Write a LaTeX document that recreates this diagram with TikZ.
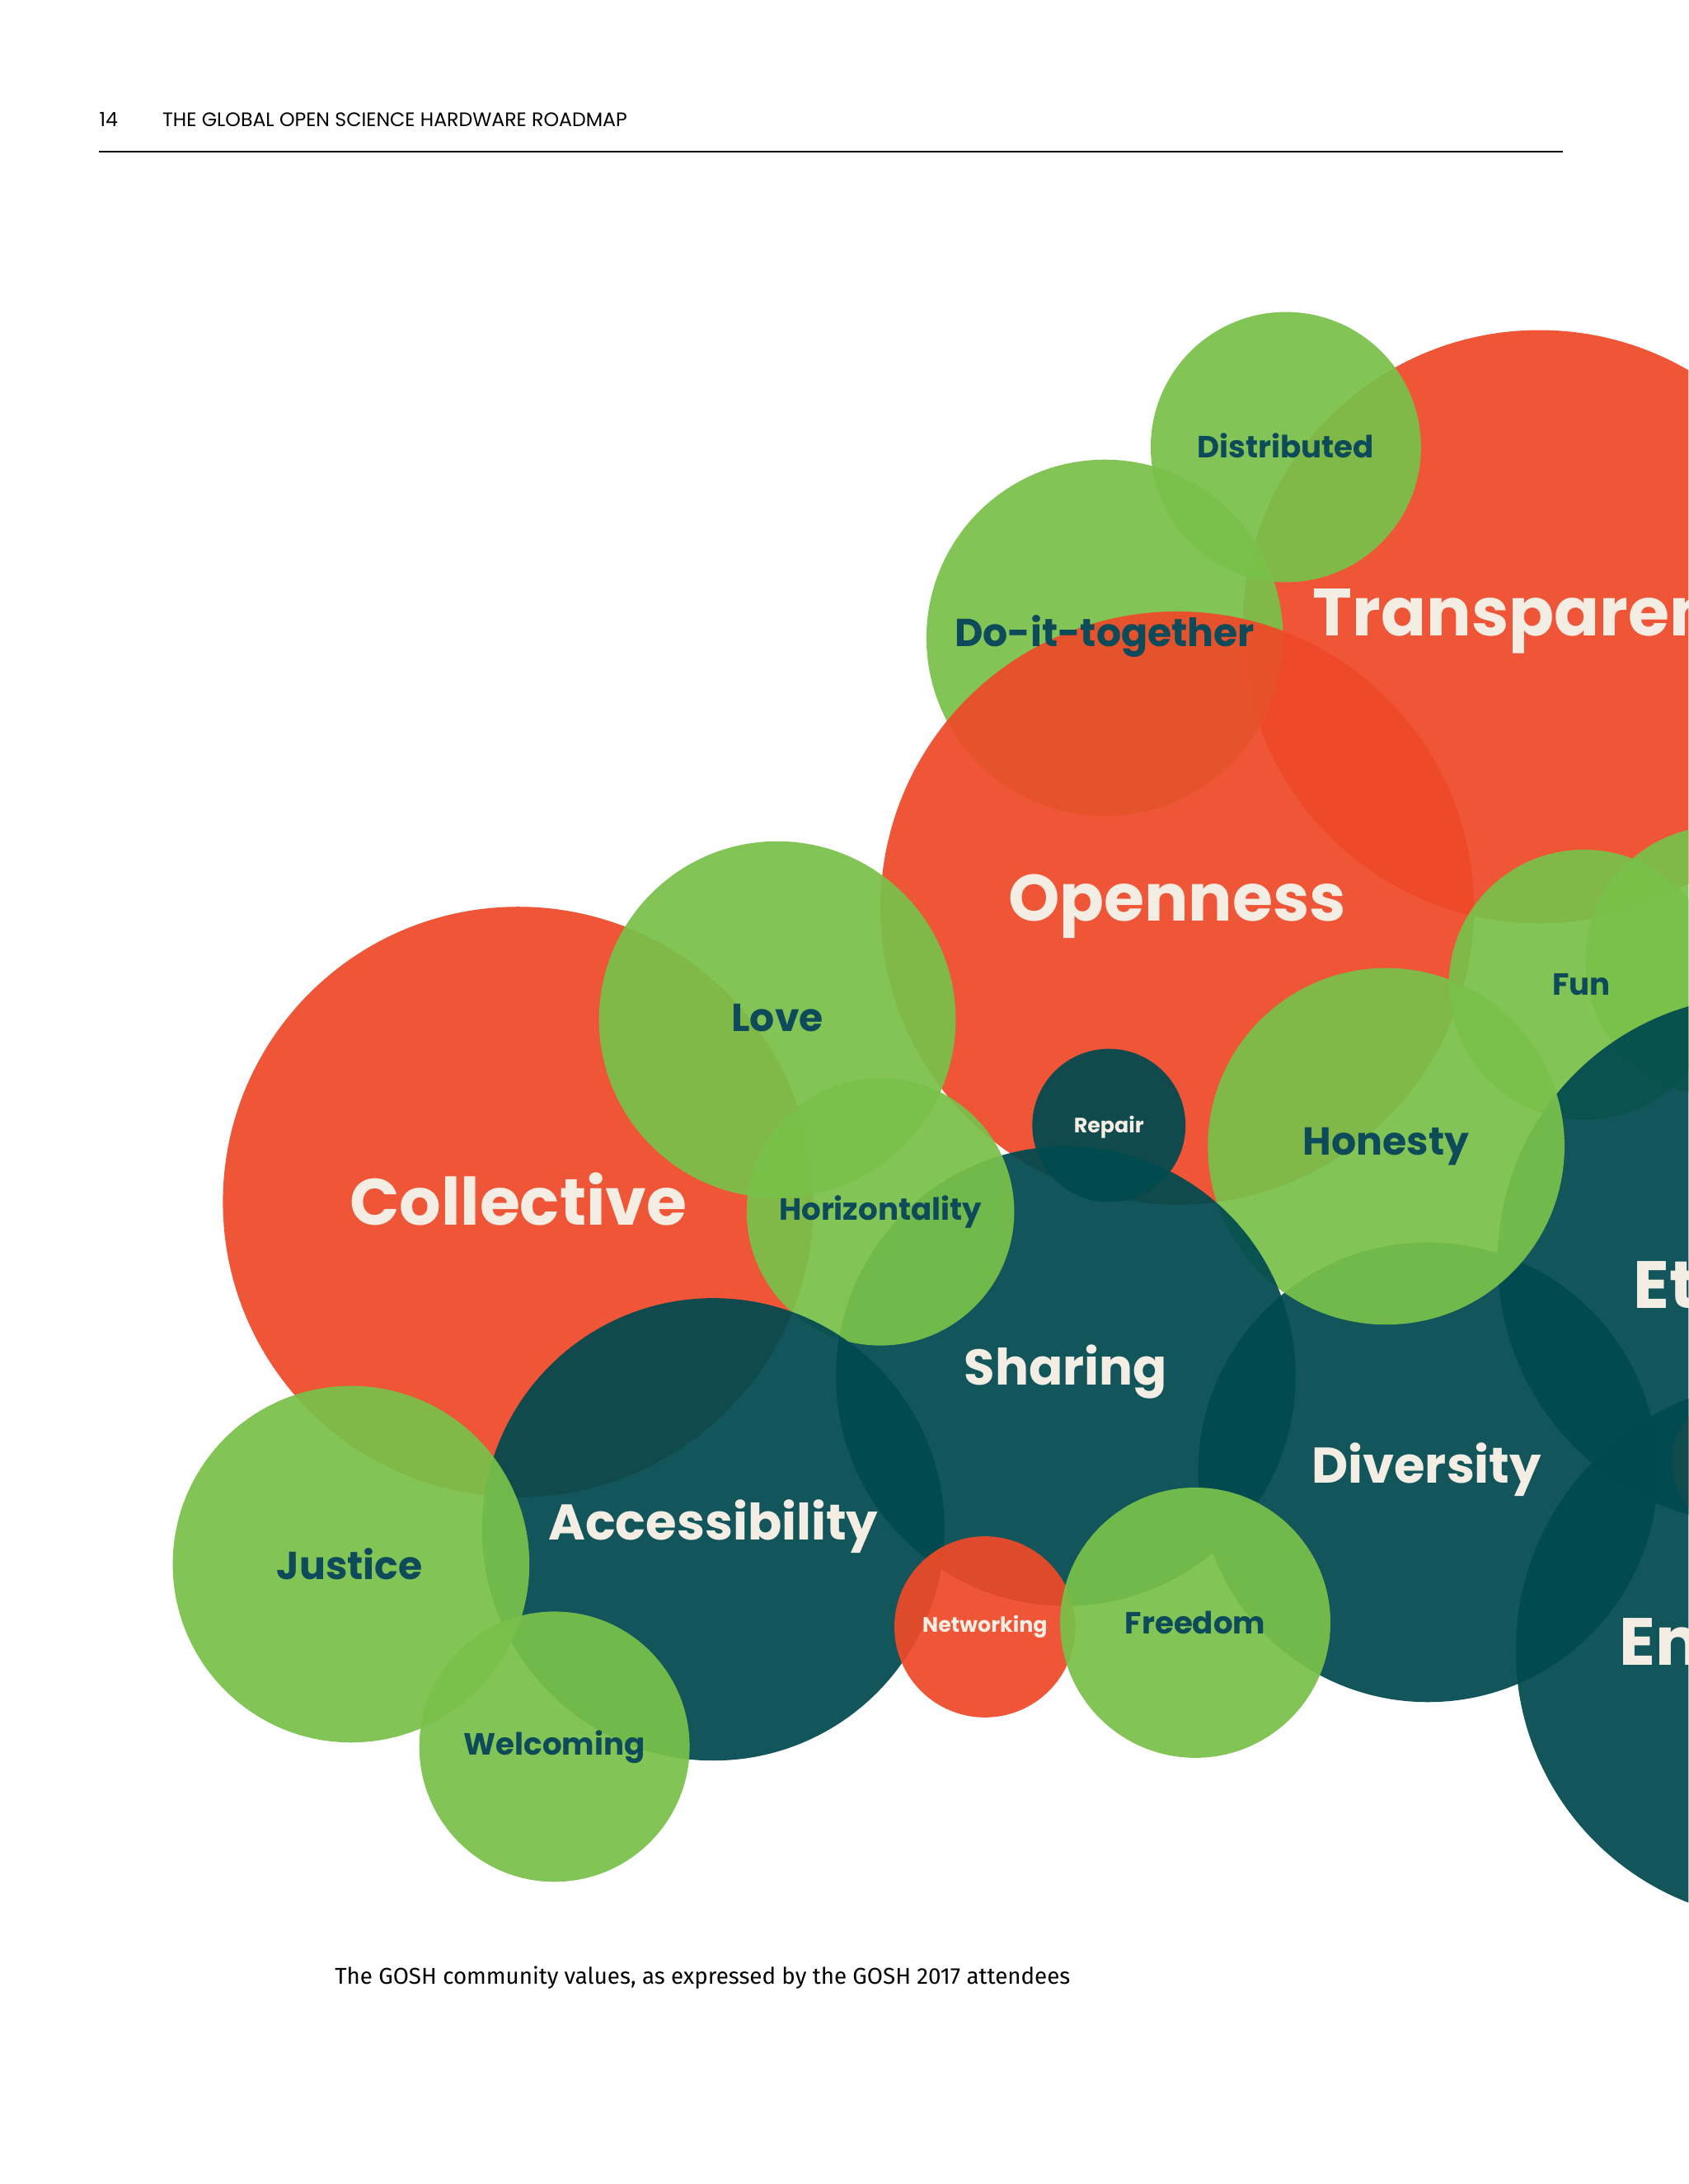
\documentclass[tikz,border=0pt]{standalone}
\usepackage{fontspec}
\setmainfont{Poppins}
\newfontfamily\capfont{Fira Sans}
\definecolor{gr}{HTML}{79C14A}
\definecolor{rd}{HTML}{EE4A28}
\definecolor{dk}{HTML}{004A4F}
\definecolor{tdk}{HTML}{0D4A5A}
\definecolor{cream}{HTML}{F3EDE4}
\tikzset{
  bub/.style={fill opacity=0.93},
  lab/.style={font=\bfseries, text=tdk, inner sep=0pt},
  labw/.style={font=\bfseries, text=cream, inner sep=0pt}
}
\begin{document}
\begin{tikzpicture}[x=0.5pt,y=-0.5pt]
\fill[white] (0,0) rectangle (1212,1568);
\useasboundingbox (0,0) rectangle (1212,1568);
\node[anchor=west,font=\fontsize{7}{9}\selectfont,inner sep=0] (hdr) at (71,86) {14\hspace{16pt}THE GLOBAL OPEN SCIENCE HARDWARE ROADMAP};
\draw[line width=0.6pt] (71,109) -- (1122,109);
\begin{scope}
\clip (0,150) rectangle (1212,1400);
\fill[bub,rd] (1105,450) circle[radius=106.5pt];
\fill[bub,gr] (923,321) circle[radius=48.5pt];
\fill[bub,gr] (793,458) circle[radius=64pt];
\fill[bub,rd] (845,652) circle[radius=106.5pt];
\fill[bub,gr] (1235,690) circle[radius=48.5pt];
\fill[bub,gr] (1137,707) circle[radius=48.5pt];
\fill[bub,dk] (1265,905) circle[radius=95pt];
\fill[bub,rd] (1250,1050) circle[radius=25pt];
\fill[bub,dk] (1282,1185) circle[radius=97pt];
\fill[bub,rd] (372,863) circle[radius=106pt];
\fill[bub,gr] (558,732) circle[radius=64pt];
\fill[bub,dk] (1025,1057) circle[radius=82.5pt];
\fill[bub,gr] (995,823) circle[radius=64pt];
\fill[bub,dk] (765,988) circle[radius=82.5pt];
\fill[bub,gr] (632,870) circle[radius=48pt];
\fill[bub,dk] (796,808) circle[radius=27.5pt];
\fill[bub,dk] (512,1098) circle[radius=83pt];
\fill[bub,gr] (252,1123) circle[radius=64pt];
\fill[bub,gr] (398,1254) circle[radius=48.5pt];
\fill[bub,rd] (707,1168) circle[radius=32.5pt];
\fill[bub,gr] (858,1165) circle[radius=48.5pt];
\node[labw,font=\bfseries\fontsize{24}{28}\selectfont,anchor=west] (t1) at (942,446) {Transparency};
\node[labw,font=\bfseries\fontsize{24}{28}\selectfont,anchor=west] (t2) at (1172,920) {Ethics};
\node[labw,font=\bfseries\fontsize{24}{28}\selectfont,anchor=west] (t3) at (1162,1185) {Empowerment};
\end{scope}
\node[lab,font=\bfseries\fontsize{11}{14}\selectfont] (n1) at (923,320) {Distributed};
\node[lab,font=\bfseries\fontsize{14}{18}\selectfont] (n2) at (793,457) {Do-it-together};
\node[labw,font=\bfseries\fontsize{23.5}{28}\selectfont] (n3) at (845,651) {Openness};
\node[lab,font=\bfseries\fontsize{11}{14}\selectfont] (n4) at (1135,707) {Fun};
\node[lab,font=\bfseries\fontsize{14}{18}\selectfont] (n5) at (558,731) {Love};
\node[labw,font=\bfseries\fontsize{23.5}{28}\selectfont] (n6) at (372,861) {Collective};
\node[lab,font=\bfseries\fontsize{11}{14}\selectfont] (n7) at (632,870) {Horizontality};
\node[labw,font=\bfseries\fontsize{7.5}{10}\selectfont] (n8) at (796,809) {Repair};
\node[lab,font=\bfseries\fontsize{14}{18}\selectfont] (n9) at (995,823) {Honesty};
\node[labw,font=\bfseries\fontsize{18}{22}\selectfont] (n10) at (765,985) {Sharing};
\node[labw,font=\bfseries\fontsize{18}{22}\selectfont] (n11) at (1024,1055) {Diversity};
\node[labw,font=\bfseries\fontsize{18}{22}\selectfont] (n12) at (512,1096) {Accessibility};
\node[lab,font=\bfseries\fontsize{14}{18}\selectfont] (n13) at (251,1123) {Justice};
\node[lab,font=\bfseries\fontsize{11}{14}\selectfont] (n14) at (398,1254) {Welcoming};
\node[labw,font=\bfseries\fontsize{7.5}{10}\selectfont] (n15) at (707,1168) {Networking};
\node[lab,font=\bfseries\fontsize{11}{14}\selectfont] (n16) at (858,1165) {Freedom};
\node[anchor=west,font=\capfont\fontsize{8.2}{10}\selectfont,inner sep=0] (cap) at (240,1420) {The GOSH community values, as expressed by the GOSH 2017 attendees};
\end{tikzpicture}
\end{document}
